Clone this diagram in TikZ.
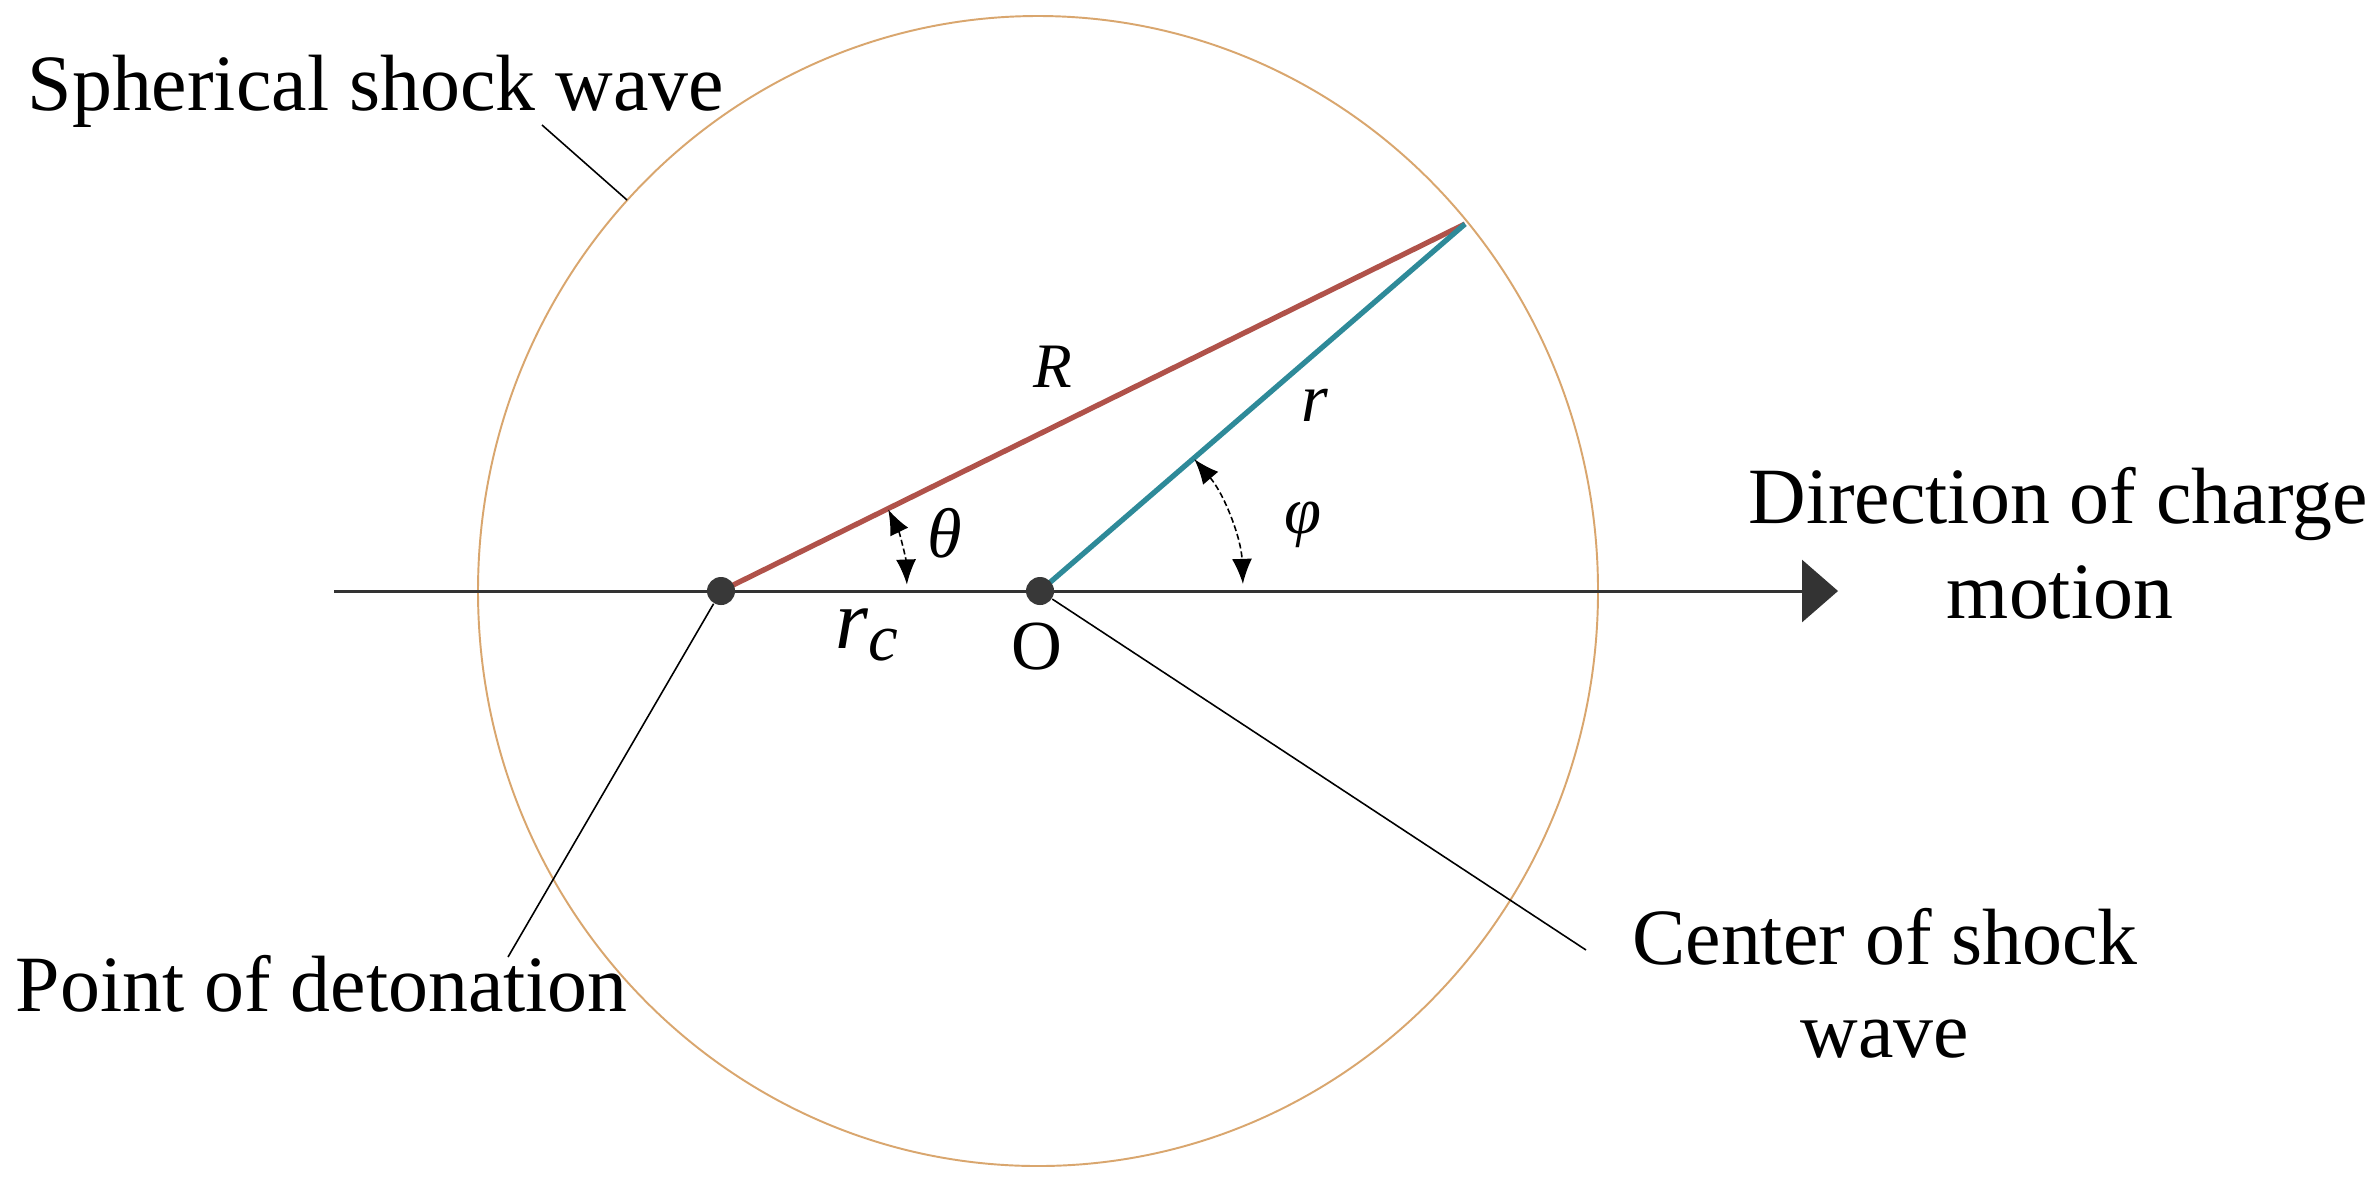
\documentclass[tikz,border=0pt]{standalone}
\usepackage{fontspec}
\setmainfont{Liberation Serif}
\usetikzlibrary{arrows.meta,calc}
\definecolor{wavec}{HTML}{D9A66E}
\definecolor{redl}{HTML}{B0524A}
\definecolor{bluel}{HTML}{2E8A99}
\definecolor{dotc}{HTML}{383838}
\tikzset{
  lab/.style={inner sep=0pt, font=\fontsize{22.7pt}{27pt}\selectfont},
  leader/.style={draw=black, line width=0.45pt},
  angarc/.style={draw=black, line width=0.45pt, dash pattern=on 1.7pt off 0.85pt, {Latex[length=0.25cm,width=0.2cm]}-{Latex[length=0.25cm,width=0.2cm]}},
  ptdot/.style={circle, fill=dotc, minimum size=0.28cm, inner sep=0pt},
  sym/.style={inner sep=0pt}
}
\begin{document}
\begin{tikzpicture}[x=0.01cm,y=-0.01cm]
\useasboundingbox (0,0) rectangle (2380,1178);
\fill[white] (0,0) rectangle (2380,1178);
% geometry
\coordinate (O) at (1040,591);
\coordinate (D) at (721,591);
\coordinate (C) at (1038,591);
\coordinate (P) at (1465,224);
% shock wave
\draw[wavec, line width=0.55pt] (C) ellipse[x radius=560, y radius=575];
% axis
\coordinate (axs) at (334,591);
\coordinate (axe) at (1838,591);
\draw[black!80, line width=0.85pt, -{Triangle[length=0.36cm, width=0.62cm]}] (axs) -- (axe);
% lines
\draw[redl, line width=1.5pt] (D) -- (P);
\draw[bluel, line width=1.5pt] (O) -- (P);
% dots
\node[ptdot] (Dd) at (D) {};
\node[ptdot] (Od) at (O) {};
% angle arcs
\draw[angarc] ($(D)+(-26:186)$) arc[start angle=-26, end angle=-2, radius=186];
\draw[angarc] ($(O)+(-40.5:203)$) arc[start angle=-40.5, end angle=-2, radius=203];
% symbols
\node[sym, font=\fontsize{18pt}{20pt}\selectfont\itshape] (Rl) at (1053,367) {R};
\node[sym, font=\fontsize{19.5pt}{20pt}\selectfont\itshape] (rl) at (1315,405) {r};
\node[sym, font=\fontsize{19pt}{20pt}\selectfont\itshape] (phl) at (1303,525) {φ};
\node[sym, font=\fontsize{20pt}{20pt}\selectfont\itshape] (thl) at (945,533) {θ};
\node[sym, font=\fontsize{24pt}{20pt}\selectfont\itshape, anchor=base west] (rcl) at (835,648) {r\raisebox{-0.12cm}{\fontsize{19pt}{20pt}\selectfont c}};
\node[sym, font=\fontsize{20pt}{20pt}\selectfont] (Ol) at (1037,647) {O};
% labels
\node[lab, anchor=base west] (sw) at (27,110) {Spherical shock wave};
\node[lab, anchor=base west] (pd) at (15,1011) {Point of detonation};
\node[lab, anchor=base] (cs1) at (1885,964) {Center of shock};
\node[lab, anchor=base] (cs2) at (1885,1057) {wave};
\node[lab, anchor=base] (dc1) at (2058,523) {Direction of charge};
\node[lab, anchor=base] (dc2) at (2060,618) {motion};
% leaders
\coordinate (swa) at (542,125);
\coordinate (swb) at (627,200);
\draw[leader] (swa) -- (swb);
\coordinate (pda) at (508,957);
\draw[leader] (Dd) -- (pda);
\coordinate (csa) at (1586,950);
\draw[leader] (Od) -- (csa);
\end{tikzpicture}
\end{document}
